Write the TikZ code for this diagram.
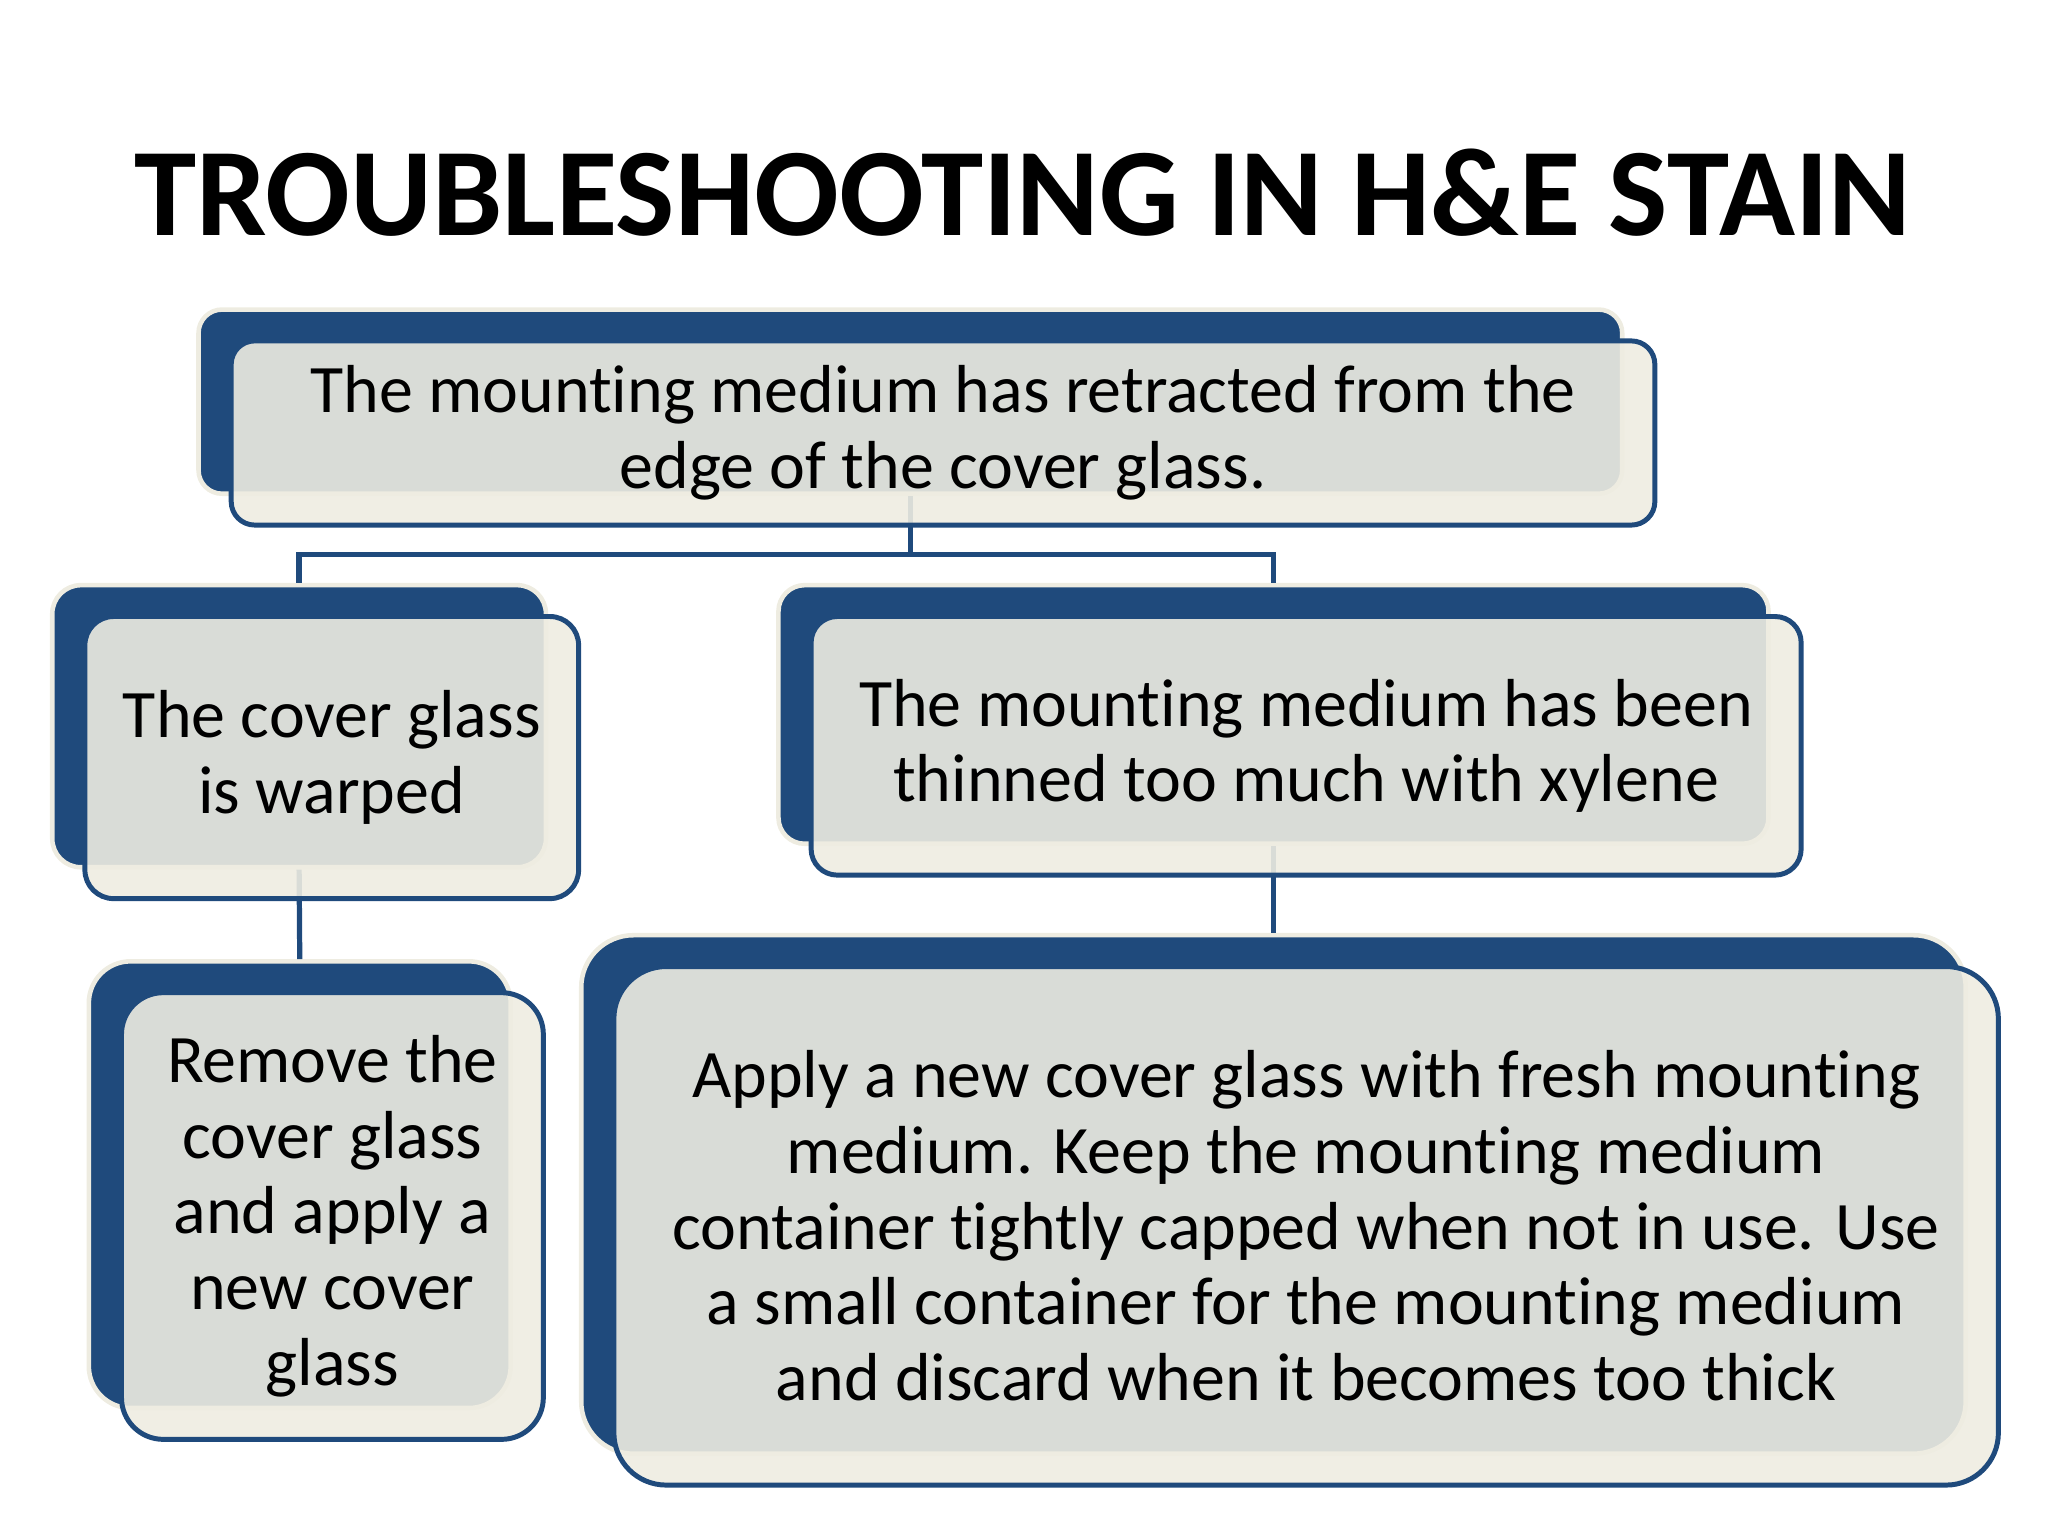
\documentclass[tikz,border=0pt]{standalone}
\usepackage{fontspec}
\setmainfont[Ligatures=NoCommon]{Carlito}
\definecolor{heblue}{HTML}{1F4A7C}
\definecolor{hecream}{HTML}{EEECE1}
\tikzstyle{back}=[draw=hecream, line width=3.5pt, fill=heblue]
\tikzstyle{front}=[draw=heblue, line width=3.8pt, fill=hecream, fill opacity=0.9,
  text opacity=1, align=center, font=\fontsize{52}{58}\selectfont]
\tikzstyle{link}=[draw=heblue, line width=4pt]

\begin{document}
\begin{tikzpicture}[x=1pt,y=-1pt]
\useasboundingbox (0,0) rectangle (1568,1176);
\draw (783,180) node[anchor=base, font=\fontsize{96}{96}\selectfont\bfseries](title)
  {TROUBLESHOOTING IN H\&E STAIN};
% Blue boxes behind, shifted up and left
\foreach \n/\x/\y/\w/\h/\r in {top/722/331.5/1090/141/18, warp/254/580/378/216/22,
  thin/1000/571/758/198/20, remove/254.5/931/323/342/32, apply/1000/938.5/1060/397/40}{
  \draw (\x-25,\y-24) node[back, rounded corners=\r pt, minimum width=\w pt,
    minimum height=\h pt](\n back){};
}
% Connectors
\draw[link] (topback.south) -- ++(0,45) -| (warpback.north);
\draw[link] (topback.south) -- ++(0,45) -| (thinback.north);
\draw[link] (warpback.south) -- (removeback.north);
\draw[link] (thinback.south) -- (applyback.north);
%
\draw (722,331.5) node[front, rounded corners=18pt, minimum width=1090pt,
  minimum height=141pt](top)
  {The mounting medium has retracted from the\\edge of the cover glass.};
\draw (254,580) node[front, rounded corners=22pt, minimum width=378pt,
  minimum height=216pt](warp)
  {The cover glass\\is warped};
\draw (1000,571) node[front, rounded corners=20pt, minimum width=758pt,
  minimum height=198pt](thin)
  {The mounting medium has been\\thinned too much with xylene};
\draw (254.5,931) node[front, rounded corners=32pt, minimum width=323pt,
  minimum height=342pt](remove)
  {Remove the\\cover glass\\and apply a\\new cover\\glass};
\draw (1000,938.5) node[front, rounded corners=40pt, minimum width=1060pt,
  minimum height=397pt](apply)
  {Apply a new cover glass with fresh mounting\\medium. Keep the mounting medium\\
   container tightly capped when not in use. Use\\a small container for the mounting medium\\
   and discard when it becomes too thick};
\end{tikzpicture}
\end{document}
